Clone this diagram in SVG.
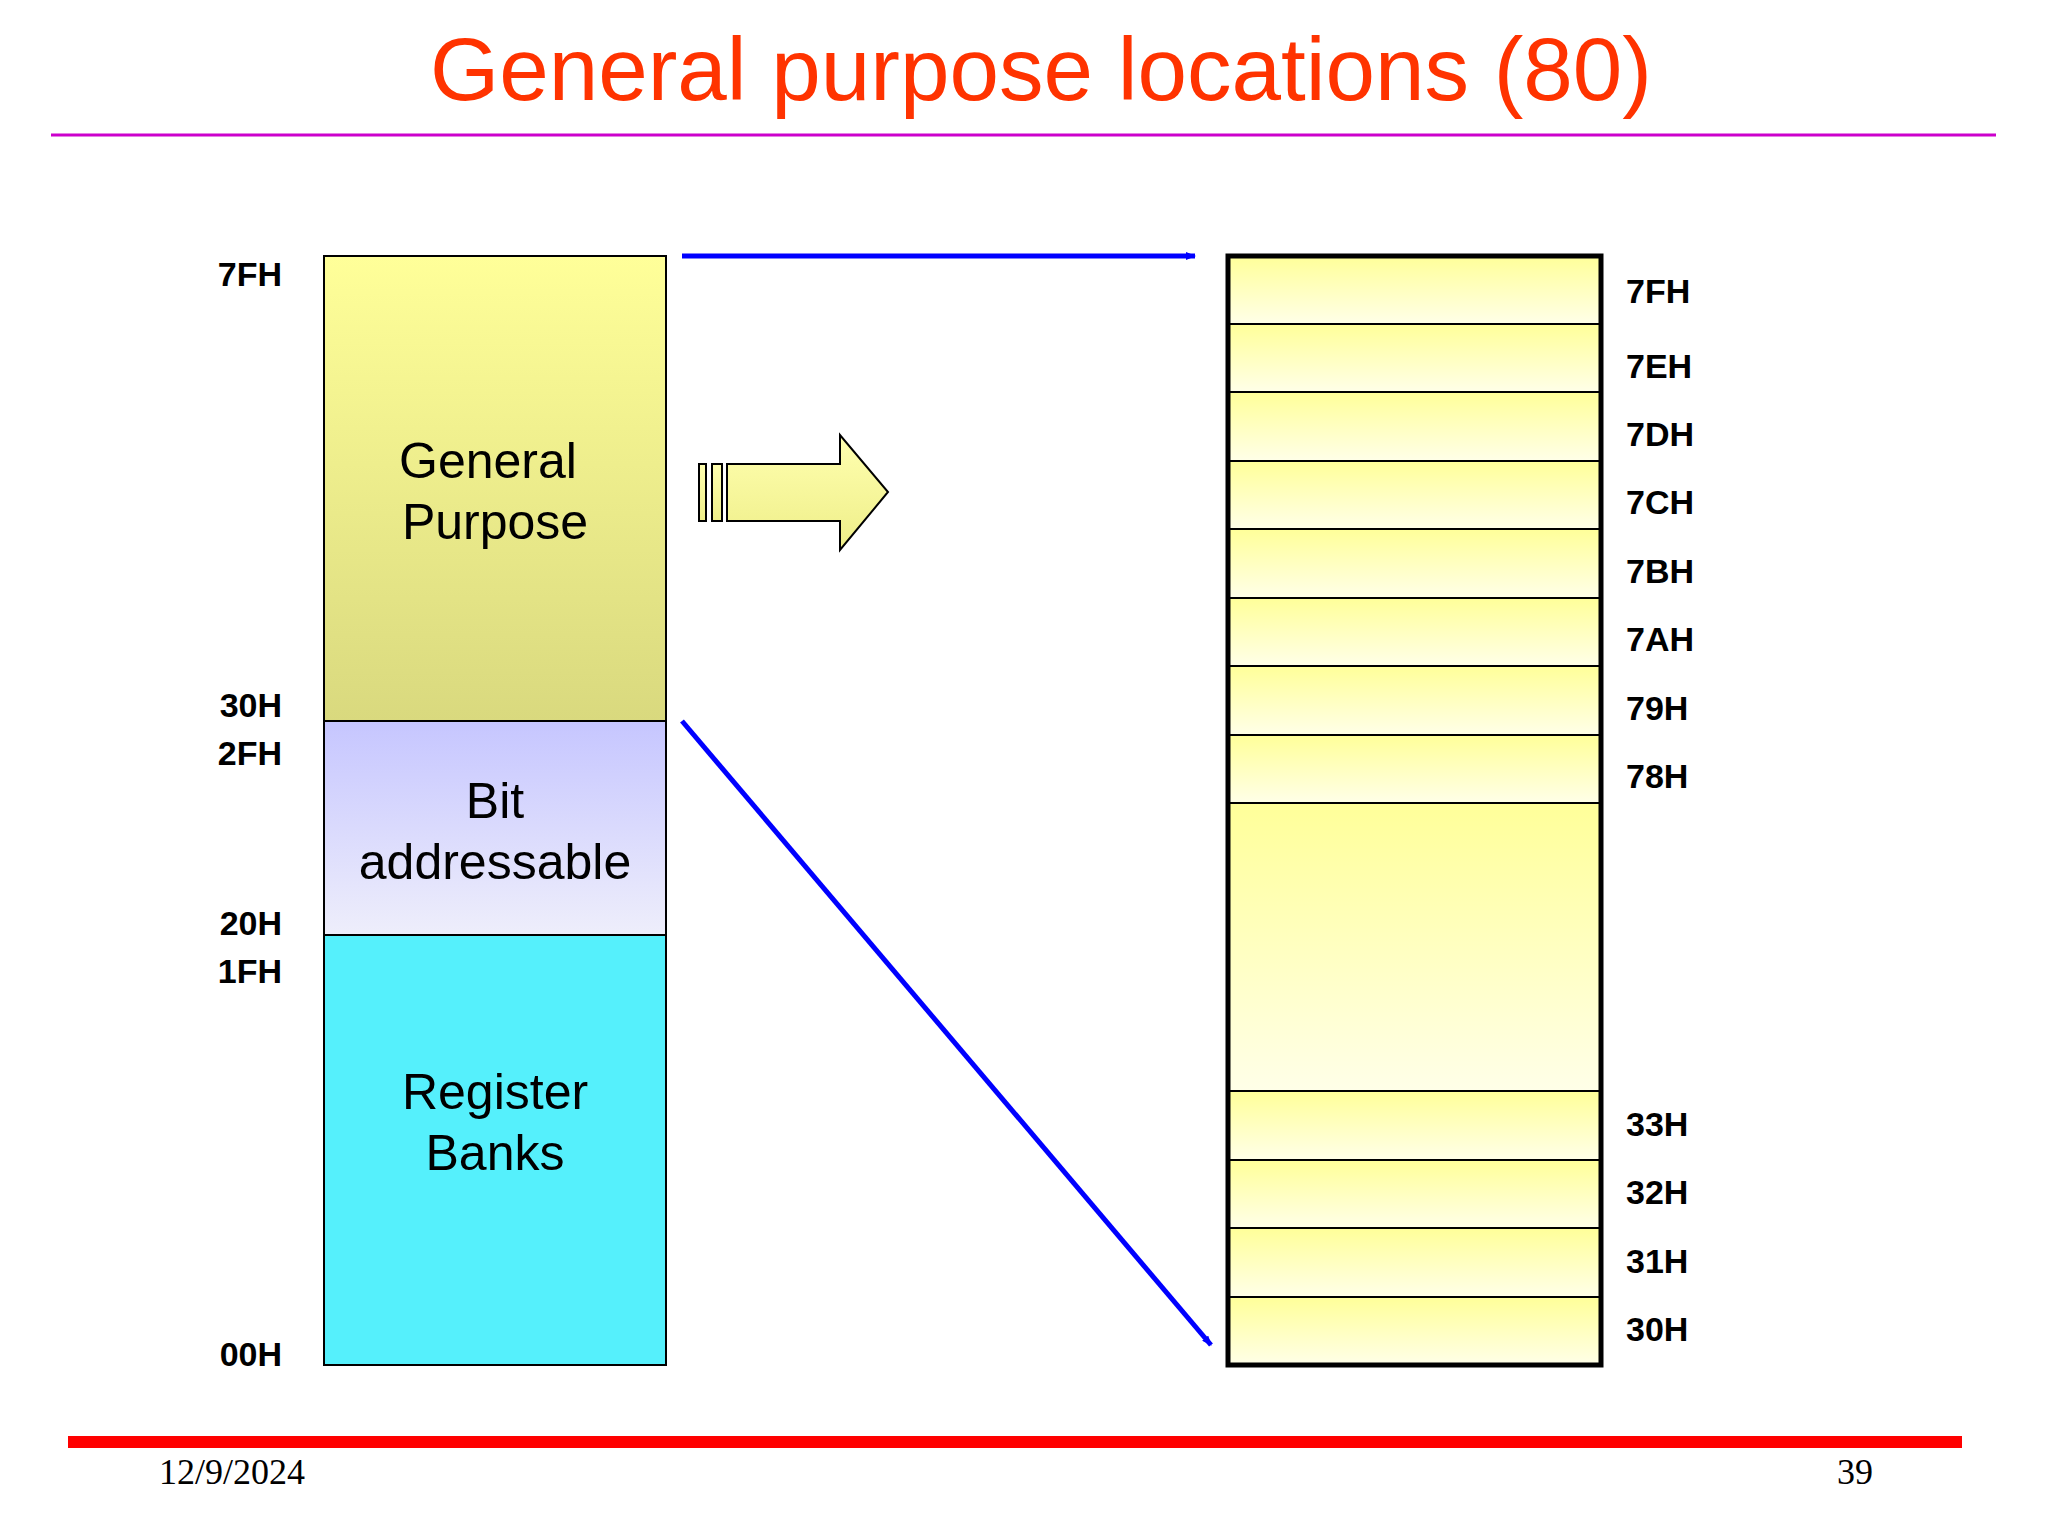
<svg xmlns="http://www.w3.org/2000/svg" width="2048" height="1536" viewBox="0 0 2048 1536">
<defs>
<linearGradient id="gp" x1="0" y1="0" x2="0" y2="1"><stop offset="0" stop-color="#FFFF99"/><stop offset="1" stop-color="#D9D97E"/></linearGradient>
<linearGradient id="ba" x1="0" y1="0" x2="0" y2="1"><stop offset="0" stop-color="#C6C6FF"/><stop offset="1" stop-color="#EEEEFB"/></linearGradient>
<linearGradient id="row" x1="0" y1="0" x2="0" y2="1"><stop offset="0" stop-color="#FFFF99"/><stop offset="1" stop-color="#FFFFE8"/></linearGradient>
<linearGradient id="arw" x1="0" y1="0" x2="0" y2="1"><stop offset="0" stop-color="#FFFFB0"/><stop offset="1" stop-color="#EEEE88"/></linearGradient>
<marker id="ah" markerWidth="10" markerHeight="8" refX="9" refY="4" orient="auto" markerUnits="userSpaceOnUse" viewBox="0 0 10 8"><path d="M0,0 L10,4 L0,8 z" fill="#0000FF"/></marker>
</defs>
<style>
.lab{font-family:"Liberation Sans",Arial,sans-serif;font-weight:bold;font-size:34px;fill:#000}
.big{font-family:"Liberation Sans",Arial,sans-serif;font-size:50px;fill:#000;text-anchor:middle}
.row{fill:url(#row);stroke:#000;stroke-width:2}
.conn{stroke:#0000FF;stroke-width:5;fill:none;marker-end:url(#ah)}
.foot{font-family:"Liberation Serif","Times New Roman",serif;font-size:36px;fill:#000}
</style>
<rect width="2048" height="1536" fill="#fff"/>
<text x="1041" y="100" font-family="Liberation Sans,Arial,sans-serif" font-size="89" fill="#FF3300" text-anchor="middle">General purpose locations (80)</text>
<line x1="51" y1="135" x2="1996" y2="135" stroke="#CC00CC" stroke-width="3"/>

<g id="general-purpose"><rect x="324" y="256" width="342" height="465" fill="url(#gp)" stroke="#000" stroke-width="2"/><text class="big" x="488" y="478">General</text><text class="big" x="495" y="539">Purpose</text></g>
<g id="bit-addressable"><rect x="324" y="721" width="342" height="214" fill="url(#ba)" stroke="#000" stroke-width="2"/><text class="big" x="495" y="818">Bit</text><text class="big" x="495" y="879">addressable</text></g>
<g id="register-banks"><rect x="324" y="935" width="342" height="430" fill="#55F0FC" stroke="#000" stroke-width="2"/><text class="big" x="495" y="1109">Register</text><text class="big" x="495" y="1170">Banks</text></g>
<g id="left-labels" text-anchor="end">
<text class="lab" x="282" y="286" text-anchor="end">7FH</text>
<text class="lab" x="282" y="717" text-anchor="end">30H</text>
<text class="lab" x="282" y="765" text-anchor="end">2FH</text>
<text class="lab" x="282" y="935" text-anchor="end">20H</text>
<text class="lab" x="282" y="983" text-anchor="end">1FH</text>
<text class="lab" x="282" y="1366" text-anchor="end">00H</text>
</g>

<g id="block-arrow" stroke="#000" stroke-width="2" fill="url(#arw)">
<rect x="699" y="464" width="7" height="57"/><rect x="712" y="464" width="10" height="57"/>
<path d="M727,464 L840,464 L840,435 L888,492 L840,550 L840,521 L727,521 z"/>
</g>

<g id="memory-map">
<rect class="row" x="1228" y="256" width="373" height="68"/>
<rect class="row" x="1228" y="324" width="373" height="68"/>
<rect class="row" x="1228" y="392" width="373" height="69"/>
<rect class="row" x="1228" y="461" width="373" height="68"/>
<rect class="row" x="1228" y="529" width="373" height="69"/>
<rect class="row" x="1228" y="598" width="373" height="68"/>
<rect class="row" x="1228" y="666" width="373" height="69"/>
<rect class="row" x="1228" y="735" width="373" height="68"/>
<rect class="row" x="1228" y="803" width="373" height="288"/>
<rect class="row" x="1228" y="1091" width="373" height="69"/>
<rect class="row" x="1228" y="1160" width="373" height="68"/>
<rect class="row" x="1228" y="1228" width="373" height="69"/>
<rect class="row" x="1228" y="1297" width="373" height="68"/>
<rect x="1228" y="256" width="373" height="1109" fill="none" stroke="#000" stroke-width="5"/>
<text class="lab" x="1626" y="303">7FH</text>
<text class="lab" x="1626" y="378">7EH</text>
<text class="lab" x="1626" y="446">7DH</text>
<text class="lab" x="1626" y="514">7CH</text>
<text class="lab" x="1626" y="583">7BH</text>
<text class="lab" x="1626" y="651">7AH</text>
<text class="lab" x="1626" y="720">79H</text>
<text class="lab" x="1626" y="788">78H</text>
<text class="lab" x="1626" y="1136">33H</text>
<text class="lab" x="1626" y="1204">32H</text>
<text class="lab" x="1626" y="1273">31H</text>
<text class="lab" x="1626" y="1341">30H</text>
</g>

<g id="connectors">
<line class="conn" x1="682" y1="256" x2="1195" y2="256"/>
<line class="conn" x1="682" y1="721" x2="1211" y2="1345"/>
</g>

<line x1="68" y1="1442" x2="1962" y2="1442" stroke="#FF0000" stroke-width="12"/>
<text class="foot" x="159" y="1484">12/9/2024</text>
<text class="foot" x="1873" y="1484" text-anchor="end">39</text>
</svg>
